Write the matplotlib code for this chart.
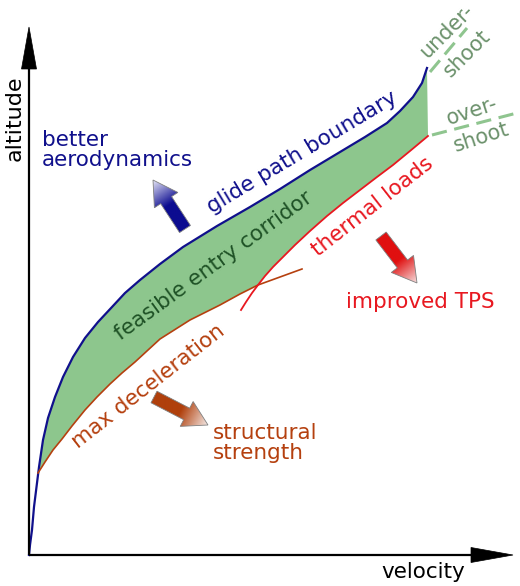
import numpy as np
import matplotlib
matplotlib.use('Agg')
import matplotlib.pyplot as plt
from matplotlib.patches import Polygon
from matplotlib.colors import LinearSegmentedColormap

# curve traces, pixel coords (x right, y down)
glide_x = [29, 30, 32, 34, 37, 39, 43, 48, 55, 63, 73, 85, 98, 112, 125,
           140, 160, 183, 217, 250, 280, 310, 340, 365, 387, 400, 413, 422, 427]
glide_y = [555, 545, 530, 507, 483, 467, 440, 418, 397, 377, 357, 338, 322,
           307, 293, 280, 264, 247, 226, 207, 189, 170, 152, 137, 123, 111,
           97, 83, 68]
decel_x = [38, 45, 53, 62, 72, 85, 97, 110, 122, 135, 160, 190, 220, 240,
           258, 280, 302]
decel_y = [473, 462, 450, 439, 426, 410, 397, 384, 373, 362, 339, 320, 305,
           294, 285, 277, 269]
thermal_x = [241, 246, 252, 258, 265, 273, 283, 295, 310, 327, 343, 360, 377,
             393, 410, 428]
thermal_y = [310, 302, 293, 285, 276, 267, 257, 245, 231, 216, 203, 190, 177,
             165, 151, 136]
cross_x = 258
under_x = [430, 467]
under_y = [72, 28]
over_x = [432, 517]
over_y = [135, 113]

# axes of the sketch
origin = (29, 555)
x_tip = 513
y_tip = 27

BLUE = '#10108c'
RUST = '#b5400f'
RED = '#e81820'
GREEN_FILL = '#8dc68d'
GREEN_TXT = '#1f5226'
GREEN_DASH = '#8fc58f'
GREEN_GRAY = '#6b916b'


def grad_arrow(ax, tail, tip, c_dark, c_light, sw=6.5, hw=14.0, hl=24.0):
    t = np.array(tail, float)
    p = np.array(tip, float)
    L = np.hypot(*(p - t))
    d = (p - t) / L
    n = np.array([-d[1], d[0]])
    b = p - d * hl
    pts = np.array([t + n * sw, b + n * sw, b + n * hw, p,
                    b - n * hw, b - n * sw, t - n * sw])
    poly = Polygon(pts, closed=True, fc='none', ec='#808080', lw=0.6, zorder=5)
    ax.add_patch(poly)
    x0, y0 = pts.min(axis=0) - 2
    x1, y1 = pts.max(axis=0) + 2
    xs = np.linspace(x0, x1, 120)
    ys = np.linspace(y0, y1, 120)
    X, Y = np.meshgrid(xs, ys)
    Z = ((X - t[0]) * d[0] + (Y - t[1]) * d[1]) / L
    cmap = LinearSegmentedColormap.from_list('g', [c_dark, c_dark, c_light])
    im = ax.imshow(Z, extent=(x0, x1, y0, y1), origin='lower', cmap=cmap,
                   vmin=0, vmax=1, aspect='auto', zorder=4,
                   interpolation='bilinear')
    im.set_clip_path(poly)


def axis_arrow(ax, start, end, head_len=42, head_half=7.5):
    s = np.array(start, float)
    e = np.array(end, float)
    d = (e - s) / np.hypot(*(e - s))
    n = np.array([-d[1], d[0]])
    b = e - d * head_len
    ax.plot([s[0], b[0]], [s[1], b[1]], color='black', lw=1.6, zorder=6,
            solid_capstyle='butt')
    ax.add_patch(Polygon([b + n * head_half, e, b - n * head_half],
                         closed=True, fc='black', ec='black', lw=0.5, zorder=6))


fig = plt.figure(figsize=(5.2, 5.86), dpi=100)
ax = fig.add_axes([0, 0, 1, 1])

# feasible corridor
gx = np.array(glide_x, float)
gy = np.array(glide_y, float)
dx = np.array(decel_x, float)
dy = np.array(decel_y, float)
tx = np.array(thermal_x, float)
ty = np.array(thermal_y, float)
upper = [(decel_x[0], decel_y[0])] + [(x, y) for x, y in zip(gx, gy) if y < decel_y[0]]
lower_t = [(x, y) for x, y in zip(tx, ty) if x >= cross_x][::-1]
lower_d = [(x, y) for x, y in zip(dx, dy) if x < cross_x][::-1]
corridor = Polygon(upper + lower_t + lower_d, closed=True, fc=GREEN_FILL,
                   ec='none', zorder=1)
ax.add_patch(corridor)

ax.plot(gx, gy, color=BLUE, lw=1.6, zorder=3, solid_joinstyle='round')
ax.plot(dx, dy, color=RUST, lw=1.2, zorder=3, solid_joinstyle='round')
ax.plot(tx, ty, color=RED, lw=1.3, zorder=3, solid_joinstyle='round')
ax.plot(under_x, under_y, color=GREEN_DASH, lw=2.2, dashes=(5, 2.5), zorder=2)
ax.plot(over_x, over_y, color=GREEN_DASH, lw=2.2, dashes=(5, 2.5), zorder=2)

axis_arrow(ax, origin, (origin[0], y_tip))
axis_arrow(ax, origin, (x_tip, origin[1]))

# improvement arrows
grad_arrow(ax, (185, 229), (153, 180), '#0c0c90', '#e4e4f6')
grad_arrow(ax, (381, 236), (417, 283), '#e01010', '#f6e2e2')
grad_arrow(ax, (154, 397), (208, 425), '#b0400c', '#f3e6e2')

# labels
ax.text(15, 118, 'altitude', rotation=90, fontsize=16, ha='center', va='center')
ax.text(423, 572, 'velocity', fontsize=15.5, ha='center', va='center')
ax.text(42, 150, 'better\naerodynamics', fontsize=15.5, color=BLUE,
        ha='left', va='center', linespacing=1.05)
ax.text(302, 152, 'glide path boundary', fontsize=15.5, color=BLUE,
        rotation=31, ha='center', va='center', rotation_mode='anchor')
ax.text(214, 266, 'feasible entry corridor', fontsize=15.5, color=GREEN_TXT,
        rotation=36, ha='center', va='center', rotation_mode='anchor')
ax.text(148, 386, 'max deceleration', fontsize=15.5, color=RUST,
        rotation=38, ha='center', va='center', rotation_mode='anchor')
ax.text(373, 207, 'thermal loads', fontsize=15.5, color=RED,
        rotation=38, ha='center', va='center', rotation_mode='anchor')
ax.text(420, 302, 'improved TPS', fontsize=15.5, color=RED,
        ha='center', va='center')
ax.text(213, 443, 'structural\nstrength', fontsize=15.5, color=RUST,
        ha='left', va='center', linespacing=1.05)
ax.text(447, 31, 'under-', fontsize=15, color=GREEN_GRAY, rotation=45,
        ha='center', va='center', rotation_mode='anchor')
ax.text(467, 53, 'shoot', fontsize=15, color=GREEN_GRAY, rotation=45,
        ha='center', va='center', rotation_mode='anchor')
ax.text(472, 111, 'over-', fontsize=15, color=GREEN_GRAY, rotation=18,
        ha='center', va='center', rotation_mode='anchor')
ax.text(481, 137, 'shoot', fontsize=15, color=GREEN_GRAY, rotation=18,
        ha='center', va='center', rotation_mode='anchor')

ax.set_xlim(0, 520)
ax.set_ylim(586, 0)
ax.axis('off')

fig.savefig('out.png', dpi=100)
plt.close(fig)
